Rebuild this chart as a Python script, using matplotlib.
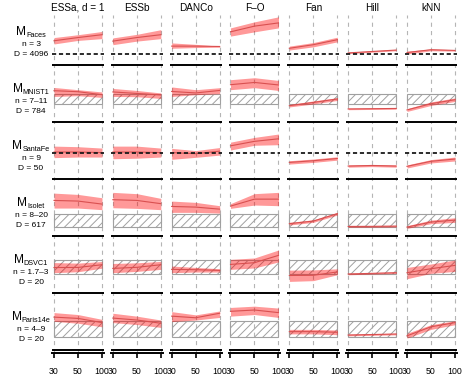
import numpy as np
import matplotlib
matplotlib.use("Agg")
import matplotlib.pyplot as plt
from matplotlib.patches import Rectangle

plt.rcParams['font.family'] = ['Liberation Sans', 'DejaVu Sans']
plt.rcParams['hatch.linewidth'] = 0.7
plt.rcParams['lines.scale_dashes'] = False

# ---- data -------------------------------------------------------------
methods = ['ESSa, d = 1', 'ESSb', 'DANCo', 'F–O', 'Fan', 'Hill', 'kNN']
sample_sizes = ['30', '50', '100']
datasets = ['Faces', 'MNIST1', 'SantaFe', 'Isolet', 'DSVC1', 'Paris14e']
n_text = ['n = 3', 'n = 7–11', 'n = 9', 'n = 8–20', 'n = 1.7–3', 'n = 4–9']
D_text = ['D = 4096', 'D = 784', 'D = 50', 'D = 617', 'D = 20', 'D = 20']
true_lo = [3, 7, 9, 8, 1.7, 4]
true_hi = [3, 11, 9, 20, 3, 9]

# estimates (median, lower, upper) per method at n = 30, 50, 100
faces_mid = [[6.7, 7.6, 8.4], [6.6, 7.6, 8.4], [5.2, 5.2, 5.1], [9.2, 10.8, 11.7],
             [4.6, 5.6, 7.0], [3.3, 3.7, 4.1], [3.4, 4.2, 4.0]]
faces_lo = [[5.8, 6.8, 7.3], [5.6, 6.6, 7.3], [4.6, 4.8, 4.9], [8.0, 9.2, 10.3],
            [4.1, 5.0, 6.4], [3.1, 3.5, 3.9], [3.0, 3.9, 3.8]]
faces_hi = [[7.6, 8.4, 9.3], [7.5, 8.5, 9.8], [6.1, 5.7, 5.2], [10.3, 12.0, 13.4],
            [5.2, 6.2, 7.7], [3.5, 3.9, 4.3], [3.8, 4.4, 4.2]]

mnist_mid = [[12.4, 12.0, 10.8], [11.9, 11.3, 10.7], [12.1, 11.5, 12.5], [14.8, 15.7, 14.7],
             [6.4, 7.7, 9.1], [5.1, 5.2, 5.3], [4.7, 7.2, 8.8]]
mnist_lo = [[10.1, 10.4, 9.7], [10.1, 10.0, 9.3], [10.1, 10.8, 11.2], [12.8, 13.6, 12.5],
            [5.9, 7.1, 8.5], [4.8, 4.9, 5.0], [4.1, 6.5, 8.1]]
mnist_hi = [[13.7, 12.8, 11.9], [13.3, 12.5, 11.5], [13.9, 12.8, 13.6], [16.8, 17.6, 16.5],
            [6.9, 8.3, 9.6], [5.4, 5.5, 5.6], [5.2, 7.9, 9.5]]

santafe_mid = [[9.5, 9.5, 9.3], [9.5, 9.5, 9.3], [9.3, 8.9, 9.8], [11.7, 13.3, 14.2],
               [5.8, 6.4, 7.2], [4.5, 4.7, 4.5], [4.4, 6.2, 7.0]]
santafe_lo = [[7.5, 7.7, 7.7], [7.1, 7.3, 7.7], [6.9, 7.6, 8.4], [10.2, 11.9, 12.1],
              [5.2, 5.8, 6.6], [4.1, 4.3, 4.1], [3.8, 5.6, 6.3]]
santafe_hi = [[11.6, 11.4, 10.9], [11.6, 11.6, 10.9], [10.8, 10.0, 11.1], [13.0, 14.7, 15.9],
              [6.4, 7.0, 7.8], [4.9, 5.1, 4.9], [4.9, 6.8, 7.7]]

isolet_mid = [[32.8, 32.2, 29.4], [33.5, 32.8, 29.8], [27.2, 26.6, 24.7], [27.5, 34.0, 34.0],
              [11.2, 13.6, 20.5], [8.6, 8.7, 8.9], [8.0, 12.7, 14.5]]
isolet_lo = [[25.7, 25.7, 24.2], [26.0, 25.4, 24.2], [21.7, 21.7, 21.0], [25.4, 28.5, 27.9],
             [9.9, 12.4, 19.2], [7.8, 7.9, 8.1], [6.8, 11.2, 12.4]]
isolet_hi = [[39.6, 38.4, 35.3], [40.3, 39.1, 34.7], [32.2, 31.0, 27.9], [29.8, 39.1, 40.3],
             [12.4, 14.8, 21.7], [9.4, 9.5, 9.7], [9.3, 14.5, 16.7]]

dsvc_mid = [[2.34, 2.35, 2.6], [2.26, 2.36, 2.6], [2.17, 2.14, 2.07], [2.63, 2.79, 3.47],
            [1.6, 1.62, 1.93], [1.74, 1.8, 1.86], [1.86, 2.23, 2.54]]
dsvc_lo = [[1.86, 1.95, 2.28], [1.86, 1.98, 2.17], [1.86, 1.92, 1.92], [2.17, 2.3, 2.86],
           [1.05, 1.12, 1.67], [1.67, 1.73, 1.79], [1.3, 1.8, 1.98]]
dsvc_hi = [[2.8, 2.75, 2.9], [2.72, 2.78, 2.91], [2.48, 2.35, 2.23], [3.1, 3.23, 3.97],
           [2.1, 2.12, 2.22], [1.81, 1.87, 1.93], [2.35, 2.67, 3.04]]

paris_mid = [[10.1, 9.7, 8.4], [9.8, 9.2, 8.2], [10.4, 9.9, 11.3], [11.9, 12.3, 11.5],
             [5.6, 5.6, 5.4], [4.55, 4.7, 4.87], [4.3, 7.1, 8.4]]
paris_lo = [[8.8, 8.2, 7.1], [8.4, 7.8, 6.9], [8.7, 9.2, 10.0], [10.4, 10.9, 10.0],
            [4.9, 4.9, 4.65], [4.3, 4.45, 4.6], [3.6, 6.3, 7.75]]
paris_hi = [[11.5, 10.9, 9.4], [11.3, 10.4, 9.2], [11.8, 10.8, 12.0], [13.1, 13.5, 12.9],
            [6.3, 6.3, 6.1], [4.8, 4.95, 5.1], [5.1, 7.75, 9.0]]

mids = [faces_mid, mnist_mid, santafe_mid, isolet_mid, dsvc_mid, paris_mid]
lows = [faces_lo, mnist_lo, santafe_lo, isolet_lo, dsvc_lo, paris_lo]
highs = [faces_hi, mnist_hi, santafe_hi, isolet_hi, dsvc_hi, paris_hi]

# y units per pixel for each row (row scale)
row_units = [0.28, 0.40, 0.356, 0.93, 0.093, 0.31]

# ---- layout (pixels) --------------------------------------------------
W, H = 474, 379
fig = plt.figure(figsize=(W / 100, H / 100), dpi=100)

col_x0 = [54 + 58.83 * j for j in range(7)]
step = 24.0
pad = 0.08
row_base = [64.7 + 57.0 * i for i in range(6)]
below = 2.8


def px_axes(left, top, width, height):
    return fig.add_axes([left / W, 1 - (top + height) / H, width / W, height / H])


xs = np.arange(3)
for i in range(6):
    b = row_base[i]
    top = 15.0 if i == 0 else row_base[i - 1] + below
    s = row_units[i]
    for j in range(7):
        ax = px_axes(col_x0[j] - pad * step, top, (2 + 2 * pad) * step, b + below - top)
        ax.set_xlim(-pad, 2 + pad)
        ax.set_ylim(-below * s, (b - top) * s)
        for xv in xs:
            ax.axvline(xv, color='#b5b5b5', lw=0.8, ls=(0, (3, 3)), zorder=1)
        if true_lo[i] == true_hi[i]:
            ax.axhline(true_lo[i], color='#1a1a1a', lw=1.3, ls=(0, (3, 2)), zorder=5)
        else:
            ax.add_patch(Rectangle((0, true_lo[i]), 2, true_hi[i] - true_lo[i],
                                   facecolor='none', edgecolor='#a0a0a0',
                                   hatch='////', lw=0.8, zorder=2))
        ax.fill_between(xs, lows[i][j], highs[i][j], color='red', alpha=0.4, lw=0, zorder=3)
        ax.plot(xs, mids[i][j], color='#d95050', lw=0.8, zorder=4)
        ax.axhline(0, color='black', lw=1.4, zorder=6)
        for sp in ['top', 'right', 'left']:
            ax.spines[sp].set_visible(False)
        ax.set_yticks([])
        if i == 5:
            ax.spines['bottom'].set_linewidth(1.4)
            ax.set_xticks(xs)
            ax.set_xticklabels(sample_sizes)
            ax.tick_params(axis='x', length=3.6, width=1.2, pad=6.5, labelsize=6.3)
        else:
            ax.spines['bottom'].set_visible(False)
            ax.set_xticks([])

# column headers
for j, m in enumerate(methods):
    fig.text((col_x0[j] + step) / W, 1 - 8 / H, m, ha='center', va='center', fontsize=7.2)

# row labels
renderer = fig.canvas.get_renderer()
cx = 31
for i in range(6):
    b = row_base[i]
    tm = fig.text(0, 1 - (b - 29.5) / H, 'M', fontsize=8.6, va='baseline')
    ts = fig.text(0, 1 - (b - 27.8) / H, datasets[i], fontsize=5.2, va='baseline')
    wm = tm.get_window_extent(renderer).width
    ws = ts.get_window_extent(renderer).width
    x_start = cx - (wm + ws) / 2
    tm.set_x(x_start / W)
    ts.set_x((x_start + wm) / W)
    fig.text(cx / W, 1 - (b - 20) / H, n_text[i], ha='center', va='center', fontsize=6)
    fig.text(cx / W, 1 - (b - 10) / H, D_text[i], ha='center', va='center', fontsize=6)

fig.savefig('out.png', dpi=100)
